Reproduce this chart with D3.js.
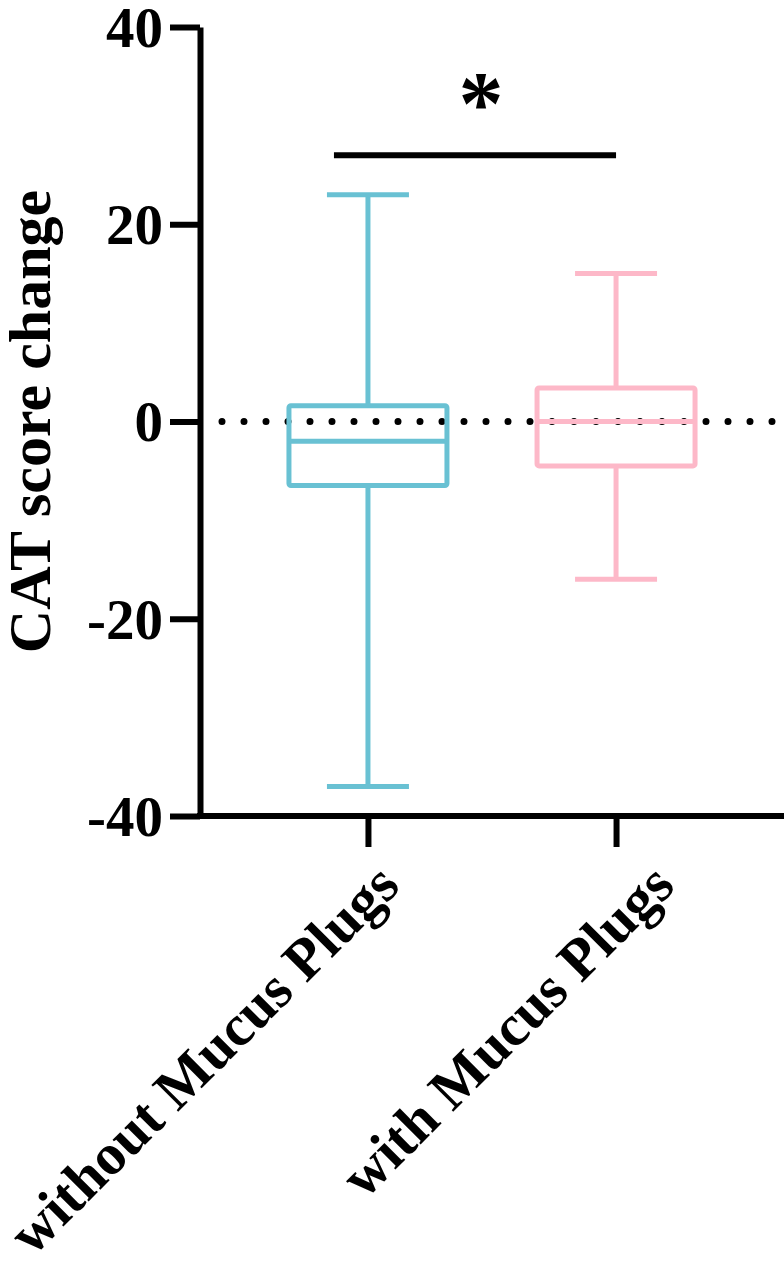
<!DOCTYPE html>
<html>
<head>
<meta charset="utf-8">
<script src="https://cdn.jsdelivr.net/npm/d3@7"></script>
<style>
  body { margin: 0; background: #fff; }
  text { font-family: "Liberation Serif", "Times New Roman", serif; font-weight: bold; }
</style>
</head>
<body>
<div id="chart"></div>
<script>
// data
const categories = ["without Mucus Plugs", "with Mucus Plugs"];
const whiskerLow = [-37, -16];
const q1 = [-6.5, -4.5];
const medians = [-2, 0];
const q3 = [1.6, 3.4];
const whiskerHigh = [23, 15];
const yTicks = [-40, -20, 0, 20, 40];
const boxColors = ["#69c1d3", "#fdb8c8"];
const sigLevel = 27;
const sigText = "*";
const yTitle = "CAT score change";

const width = 784;
const height = 1265;
const boxWidth = 158;
const capWidth = 82;
const labelShift = [34, 61];

const svg = d3
  .select("#chart")
  .append("svg")
  .attr("width", width)
  .attr("height", height);

const y = d3.scaleLinear().domain([-40, 40]).range([816, 27]);
const x = d3.scalePoint().domain(categories).range([200, 784]).padding(0.677);

// dotted line at zero
svg.append("line")
  .attr("x1", 222)
  .attr("x2", width)
  .attr("y1", y(0))
  .attr("y2", y(0))
  .attr("stroke", "#000")
  .attr("stroke-width", 7)
  .attr("stroke-linecap", "round")
  .attr("stroke-dasharray", "0 22");

// boxes
const groups = svg.selectAll(".box")
  .data(categories)
  .enter()
  .append("g")
  .attr("class", "box")
  .attr("stroke", (d, i) => boxColors[i])
  .attr("stroke-width", 5)
  .attr("fill", "none");

groups.append("line")
  .attr("x1", (d) => x(d))
  .attr("x2", (d) => x(d))
  .attr("y1", (d, i) => y(q3[i]))
  .attr("y2", (d, i) => y(whiskerHigh[i]));

groups.append("line")
  .attr("x1", (d) => x(d))
  .attr("x2", (d) => x(d))
  .attr("y1", (d, i) => y(q1[i]))
  .attr("y2", (d, i) => y(whiskerLow[i]));

groups.append("line")
  .attr("x1", (d) => x(d) - capWidth / 2)
  .attr("x2", (d) => x(d) + capWidth / 2)
  .attr("y1", (d, i) => y(whiskerHigh[i]))
  .attr("y2", (d, i) => y(whiskerHigh[i]));

groups.append("line")
  .attr("x1", (d) => x(d) - capWidth / 2)
  .attr("x2", (d) => x(d) + capWidth / 2)
  .attr("y1", (d, i) => y(whiskerLow[i]))
  .attr("y2", (d, i) => y(whiskerLow[i]));

groups.append("rect")
  .attr("x", (d) => x(d) - boxWidth / 2)
  .attr("width", boxWidth)
  .attr("y", (d, i) => y(q3[i]))
  .attr("height", (d, i) => y(q1[i]) - y(q3[i]))
  .attr("rx", 2)
  .attr("stroke-linejoin", "round");

groups.append("line")
  .attr("x1", (d) => x(d) - boxWidth / 2)
  .attr("x2", (d) => x(d) + boxWidth / 2)
  .attr("y1", (d, i) => y(medians[i]))
  .attr("y2", (d, i) => y(medians[i]));

// y axis
const yAxis = d3.axisLeft(y)
  .tickValues(yTicks)
  .tickSize(30)
  .tickSizeOuter(0)
  .tickPadding(7)
  .tickFormat((d) => String(d));

const gy = svg.append("g")
  .attr("transform", "translate(200,0)")
  .call(yAxis);
gy.select(".domain").attr("stroke-width", 6);
gy.selectAll(".tick line").attr("stroke-width", 6);
gy.selectAll(".tick text")
  .attr("font-size", 57)
  .attr("fill", "#000")
  .attr("dy", "0.34em");

// x axis
const xAxis = d3.axisBottom(x).tickSize(31).tickSizeOuter(0).tickFormat("");
const gx = svg.append("g")
  .attr("transform", `translate(0,${y(-40)})`)
  .call(xAxis);
gx.select(".domain").attr("stroke-width", 6).attr("d", `M197,0H${width}`);
gx.selectAll(".tick line").attr("stroke-width", 6);

svg.selectAll(".xlabel")
  .data(categories)
  .enter()
  .append("text")
  .attr("class", "xlabel")
  .attr("text-anchor", "end")
  .attr("font-size", 58)
  .attr("transform", (d, i) => `translate(${x(d) + labelShift[i]},888) rotate(-45)`)
  .text((d) => d);

// y title
svg.append("text")
  .attr("text-anchor", "middle")
  .attr("font-size", 60)
  .attr("transform", `translate(50,${(y(40) + y(-40)) / 2}) rotate(-90)`)
  .text(yTitle);

// significance bar
const sx1 = x(categories[0]) - 34;
const sx2 = x(categories[1]);
svg.append("line")
  .attr("x1", sx1)
  .attr("x2", sx2)
  .attr("y1", y(sigLevel))
  .attr("y2", y(sigLevel))
  .attr("stroke", "#000")
  .attr("stroke-width", 6);

svg.append("text")
  .attr("text-anchor", "middle")
  .attr("font-size", 90)
  .attr("x", (sx1 + sx2) / 2 + 6)
  .attr("y", 134)
  .text(sigText);
</script>
</body>
</html>
